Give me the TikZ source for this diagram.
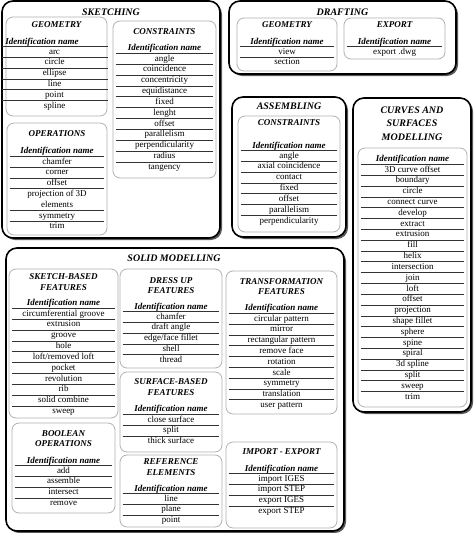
\documentclass[tikz,border=0pt]{standalone}
\usepackage{fontspec}
\setmainfont{Liberation Serif}
\usetikzlibrary{fit,shadows}

\begin{document}
\begin{tikzpicture}[x=1pt, y=-1pt,
    module/.style ={draw, line width=1.6pt, rounded corners=11pt, fill=white, inner sep=0pt,
      drop shadow={shadow xshift=2pt, shadow yshift=-2pt, fill=black!65, opacity=1}},
    group/.style ={draw=gray!60, line width=0.8pt, rounded corners=7pt, fill=white, inner sep=0pt},
    moduletitle/.style ={font=\bfseries\itshape\fontsize{10}{13.5}\selectfont, align=center, inner sep=0pt},
    grouptitle/.style ={font=\bfseries\itshape\fontsize{9}{10.5}\selectfont, align=center, inner sep=0pt},
    header/.style ={font=\bfseries\itshape\fontsize{9}{10}\selectfont, inner sep=0pt},
    entry/.style ={font=\fontsize{9}{10}\selectfont, inner sep=0pt, minimum height=10.85pt,
      text height=6pt, text depth=2pt},
    rule/.style ={black!80, line width=0.65pt, shorten <=3pt, shorten >=3pt}]
   \useasboundingbox (0,0) rectangle (474,533);

   % sketching
   \node[module, fit={(2,1) (220,238)}] (sketching) {};
   \node[moduletitle] (sketching-t) at (111,12) {SKETCHING};
   \node[group, fit={(6,17) (107,116)}] (skgeo) {};
   \node[grouptitle] (skgeo-t) at (56.5,25) {GEOMETRY};
   \node[header] (skgeo-h) at (42,42) {Identification name};
   \foreach \t [count=\i from 0] in {arc,circle,ellipse,line,point,spline} {
     \node[entry] (skgeo-\i) at (54.5,52+10.85*\i) {\t};
     \draw[rule, shorten <=-4pt, shorten >=-1pt] (skgeo.west |- skgeo-\i.north) -- (skgeo.east |- skgeo-\i.north);
   }
   \node[group, fit={(113,21) (216,178)}] (skcon) {};
   \node[grouptitle] (skcon-t) at (164.5,32) {CONSTRAINTS};
   \node[header] (skcon-h) at (164.5,48) {Identification name};
   \foreach \t [count=\i from 0] in {angle,coincidence,concentricity,equidistance,fixed,lenght,
       offset,parallelism,perpendicularity,radius,tangency} {
     \node[entry] (skcon-\i) at (164.5,59+10.85*\i) {\t};
     \draw[rule] (skcon.west |- skcon-\i.north) -- (skcon.east |- skcon-\i.north);
   }
   \node[group, fit={(7,123) (107,235)}] (skops) {};
   \node[grouptitle] (skops-t) at (57,134) {OPERATIONS};
   \node[header] (skops-h) at (57,151) {Identification name};
   \foreach \r/\t in {0/chamfer,1/corner,2/offset,3/projection of 3D,5/symmetry,6/trim} {
     \node[entry] (skops-\r) at (57,162+10.8*\r) {\t};
     \draw[rule] (skops.west |- skops-\r.north) -- (skops.east |- skops-\r.north);
   }
   \node[entry] (skops-4) at (57,162+10.8*4) {elements};

   % drafting
   \node[module, fit={(229,1) (456,74)}] (drafting) {};
   \node[moduletitle] (drafting-t) at (342.5,12) {DRAFTING};
   \node[group, fit={(237,18) (337,71)}] (drgeo) {};
   \node[grouptitle] (drgeo-t) at (287,25) {GEOMETRY};
   \node[header] (drgeo-h) at (287,42) {Identification name};
   \foreach \t [count=\i from 0] in {view,section} {
     \node[entry] (drgeo-\i) at (287,52+10.85*\i) {\t};
     \draw[rule] (drgeo.west |- drgeo-\i.north) -- (drgeo.east |- drgeo-\i.north);
   }
   \node[group, fit={(344,18) (445,59)}] (drexp) {};
   \node[grouptitle] (drexp-t) at (394.5,25) {EXPORT};
   \node[header] (drexp-h) at (394.5,42) {Identification name};
   \node[entry] (drexp-0) at (394.5,52) {export .dwg};
   \draw[rule] (drexp.west |- drexp-0.north) -- (drexp.east |- drexp-0.north);

   % assembling
   \node[module, fit={(232,97) (346,237)}] (assembling) {};
   \node[moduletitle] (assembling-t) at (289,106) {ASSEMBLING};
   \node[group, fit={(238,116) (340,232)}] (ascon) {};
   \node[grouptitle] (ascon-t) at (289,123) {CONSTRAINTS};
   \node[header] (ascon-h) at (289,146) {Identification name};
   \foreach \t [count=\i from 0] in {angle,axial coincidence,contact,fixed,offset,parallelism,perpendicularity} {
     \node[entry] (ascon-\i) at (289,156+10.85*\i) {\t};
     \draw[rule] (ascon.west |- ascon-\i.north) -- (ascon.east |- ascon-\i.north);
   }

   % curves and surfaces
   \node[module, fit={(353,98) (471,412)}] (curves) {};
   \node[moduletitle] (curves-t) at (412,123.5) {CURVES AND\\SURFACES\\MODELLING};
   \node[group, fit={(358,148) (467,407)}] (cvlist) {};
   \node[header] (cvlist-h) at (412.5,159) {Identification name};
   \foreach \t [count=\i from 0] in {3D curve offset,boundary,circle,connect curve,develop,extract,
       extrusion,fill,helix,intersection,join,loft,offset,projection,shape fillet,sphere,spine,
       spiral,3d spline,split,sweep,trim} {
     \node[entry] (cvlist-\i) at (412.5,170+10.82*\i) {\t};
     \draw[rule] (cvlist.west |- cvlist-\i.north) -- (cvlist.east |- cvlist-\i.north);
   }

   % solid modelling
   \node[module, fit={(6,248) (344,531)}] (solid) {};
   \node[moduletitle] (solid-t) at (174,258) {SOLID MODELLING};
   \node[group, fit={(9,269) (118,418)}] (smsketch) {};
   \node[grouptitle] (smsketch-t) at (63.5,282) {SKETCH-BASED\\FEATURES};
   \node[header] (smsketch-h) at (63.5,303) {Identification name};
   \foreach \t [count=\i from 0] in {circumferential groove,extrusion,groove,hole,loft/removed loft,
       pocket,revolution,rib,solid combine,sweep} {
     \node[entry] (smsketch-\i) at (63.5,314+10.85*\i) {\t};
     \draw[rule] (smsketch.west |- smsketch-\i.north) -- (smsketch.east |- smsketch-\i.north);
   }
   \node[group, fit={(12,423) (115,513)}] (smbool) {};
   \node[grouptitle] (smbool-t) at (63.5,438.5) {BOOLEAN\\OPERATIONS};
   \node[header] (smbool-h) at (63.5,461) {Identification name};
   \foreach \t [count=\i from 0] in {add,assemble,intersect,remove} {
     \node[entry] (smbool-\i) at (63.5,471+10.85*\i) {\t};
     \draw[rule] (smbool.west |- smbool-\i.north) -- (smbool.east |- smbool-\i.north);
   }
   \node[group, fit={(120,269) (222,368)}] (smdress) {};
   \node[grouptitle] (smdress-t) at (171,285.5) {DRESS UP\\FEATURES};
   \node[header] (smdress-h) at (171,307) {Identification name};
   \foreach \t [count=\i from 0] in {chamfer,draft angle,edge/face fillet,shell,thread} {
     \node[entry] (smdress-\i) at (171,317+10.85*\i) {\t};
     \draw[rule] (smdress.west |- smdress-\i.north) -- (smdress.east |- smdress-\i.north);
   }
   \node[group, fit={(120,372) (222,452)}] (smsurf) {};
   \node[grouptitle] (smsurf-t) at (171,387) {SURFACE-BASED\\FEATURES};
   \node[header] (smsurf-h) at (171,409) {Identification name};
   \foreach \t [count=\i from 0] in {close surface,split,thick surface} {
     \node[entry] (smsurf-\i) at (171,420+10.85*\i) {\t};
     \draw[rule] (smsurf.west |- smsurf-\i.north) -- (smsurf.east |- smsurf-\i.north);
   }
   \node[group, fit={(120,455) (222,527)}] (smref) {};
   \node[grouptitle] (smref-t) at (171,467) {REFERENCE\\ELEMENTS};
   \node[header] (smref-h) at (171,489) {Identification name};
   \foreach \t [count=\i from 0] in {line,plane,point} {
     \node[entry] (smref-\i) at (171,499+10.85*\i) {\t};
     \draw[rule] (smref.west |- smref-\i.north) -- (smref.east |- smref-\i.north);
   }
   \node[group, fit={(226,271) (337,414)}] (smtrans) {};
   \node[grouptitle] (smtrans-t) at (281.5,286.5) {TRANSFORMATION\\FEATURES};
   \node[header] (smtrans-h) at (281.5,308) {Identification name};
   \foreach \t [count=\i from 0] in {circular pattern,mirror,rectangular pattern,remove face,
       rotation,scale,symmetry,translation,user pattern} {
     \node[entry] (smtrans-\i) at (281.5,319+10.8*\i) {\t};
     \draw[rule] (smtrans.west |- smtrans-\i.north) -- (smtrans.east |- smtrans-\i.north);
   }
   \node[group, fit={(226,442) (337,528)}] (smio) {};
   \node[grouptitle] (smio-t) at (281.5,452) {IMPORT - EXPORT};
   \node[header] (smio-h) at (281.5,469) {Identification name};
   \foreach \t [count=\i from 0] in {import IGES,import STEP,export IGES,export STEP} {
     \node[entry] (smio-\i) at (281.5,479+10.9*\i) {\t};
     \draw[rule] (smio.west |- smio-\i.north) -- (smio.east |- smio-\i.north);
   }
\end{tikzpicture}
\end{document}
